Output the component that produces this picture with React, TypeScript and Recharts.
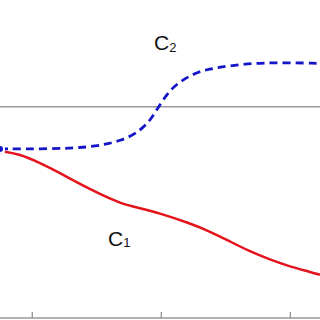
import { LineChart, Line, XAxis, YAxis, ReferenceLine, Customized } from "recharts";

// x positions (arbitrary units, ticks at 1, 5, 9)
const c1X = [0, 0.62, 1.24, 1.86, 2.48, 3.1, 3.72, 4.34, 4.96, 5.89, 6.51, 7.13, 7.75, 8.37, 8.99, 9.61, 9.92];
const c1Y = [0.792, 0.778, 0.736, 0.689, 0.637, 0.59, 0.547, 0.524, 0.5, 0.453, 0.415, 0.368, 0.321, 0.283, 0.25, 0.226, 0.212];

const c2X = [0, 1.55, 2.79, 3.81, 4.34, 4.65, 4.9, 5.18, 5.49, 5.89, 6.29, 6.76, 7.44, 8.37, 9.92];
const c2Y = [0.802, 0.802, 0.808, 0.84, 0.887, 0.934, 0.995, 1.061, 1.108, 1.146, 1.17, 1.184, 1.198, 1.208, 1.203];

const xTicks = [1, 5, 9];
const refLevel = 1.0;

const c1 = c1X.map((x, i) => ({ x, y: c1Y[i] }));
const c2 = c2X.map((x, i) => ({ x, y: c2Y[i] }));

const font = "'Liberation Sans', Arial, sans-serif";

// curve labels with subscripts
function Labels() {
  return (
    <g fontFamily={font} fill="#111">
      <text x={154} y={50} fontSize={21}>
        C<tspan fontSize={13} dy={1.5}>2</tspan>
      </text>
      <text x={108} y={246} fontSize={21}>
        C<tspan fontSize={13} dy={1}>1</tspan>
      </text>
    </g>
  );
}

const NoLabel = () => <g />;

export default function App() {
  return (
    <div style={{ position: "absolute", left: 0, top: 0, width: 320, height: 320, background: "#fff", overflow: "hidden" }}>
      <LineChart width={320} height={320} margin={{ top: 0, right: 0, bottom: 2, left: 0 }}>
        <XAxis
          type="number"
          dataKey="x"
          domain={[0, 9.92]}
          ticks={xTicks}
          tick={NoLabel}
          tickLine={{ stroke: "#888", strokeWidth: 1.2 }}
          tickSize={6}
          mirror
          height={2}
          axisLine={{ stroke: "#999", strokeWidth: 1.5 }}
          allowDataOverflow
        />
        <YAxis type="number" domain={[0.0094, 1.5]} hide allowDataOverflow />
        <ReferenceLine y={refLevel} stroke="#999" strokeWidth={1.5} />
        <Line
          data={c1}
          dataKey="y"
          type="basis"
          stroke="#e4121b"
          strokeWidth={2.5}
          dot={false}
          isAnimationActive={false}
        />
        <Line
          data={c2}
          dataKey="y"
          type="basis"
          stroke="#1414c8"
          strokeWidth={2.8}
          strokeDasharray="8 5"
          dot={false}
          isAnimationActive={false}
        />
        <Customized component={Labels} />
      </LineChart>
    </div>
  );
}
